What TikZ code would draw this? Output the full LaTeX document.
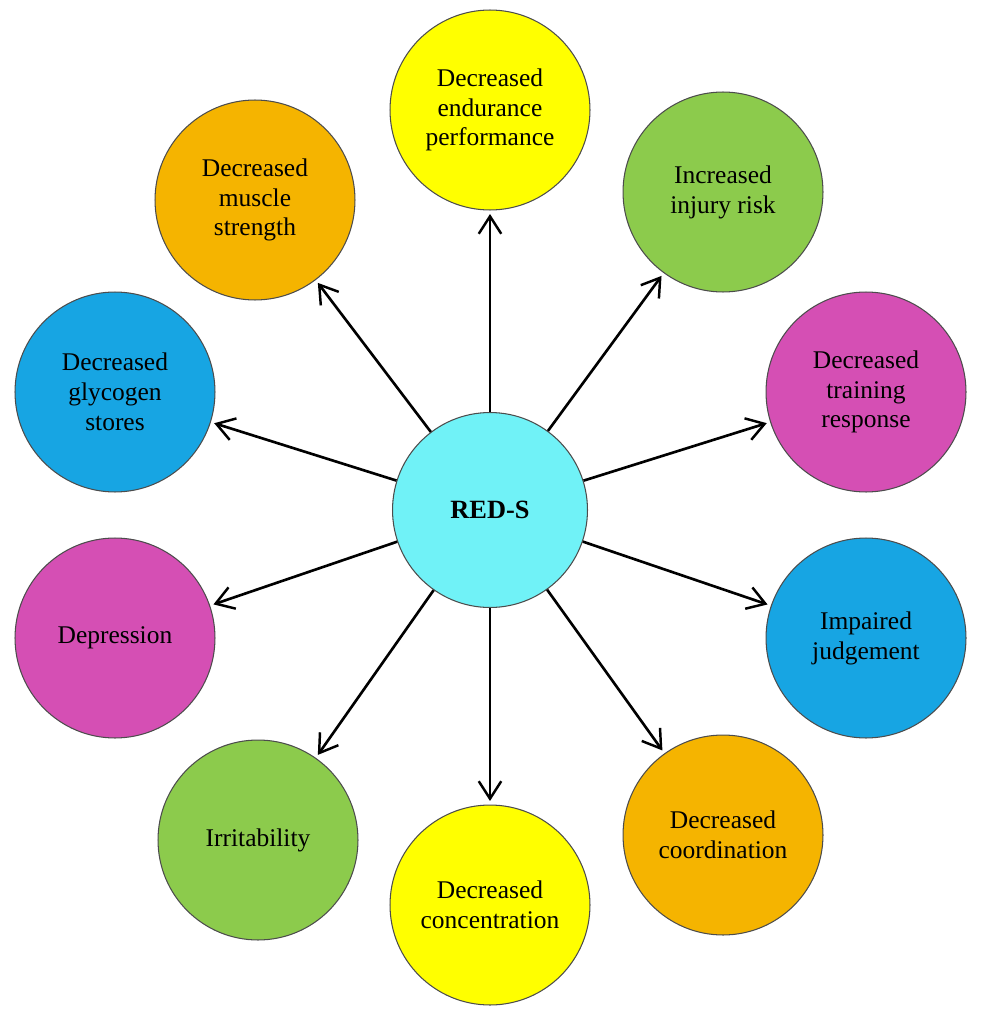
\documentclass[tikz,border=0pt]{standalone}
\usepackage{fontspec}
\setmainfont{Liberation Serif}
\usetikzlibrary{arrows.meta}
\begin{document}
\begin{tikzpicture}[x=0.02cm,y=-0.02cm,
  c/.style={circle,draw=black!70,line width=0.6pt,minimum size=4cm,inner sep=0pt,align=center,font=\fontsize{14.5}{17}\selectfont},
  arr/.style={-{Straight Barb[length=3.5mm,width=4.5mm,line width=1.4pt]},line width=1.5pt,shorten >=2pt}]
\definecolor{yel}{HTML}{FFFF00}
\definecolor{org}{HTML}{F5B400}
\definecolor{grn}{HTML}{8CCB4C}
\definecolor{mag}{HTML}{D54FB4}
\definecolor{blu}{HTML}{17A5E3}
\definecolor{cya}{HTML}{70F2F7}
\useasboundingbox (0,0) rectangle (985,1024);
\node[c,fill=cya,minimum size=3.9cm,font=\fontsize{15}{17}\selectfont\bfseries] (m) at (490,510) {RED-S};
\node[c,fill=yel] (a) at (490,110) {Decreased\\endurance\\performance};
\node[c,fill=org] (b) at (255,200) {Decreased\\muscle\\strength};
\node[c,fill=grn] (d) at (723,192) {Increased\\injury risk};
\node[c,fill=blu] (e) at (115,392) {Decreased\\glycogen\\stores};
\node[c,fill=mag] (f) at (866,392) {Decreased\\training\\response};
\node[c,fill=mag] (g) at (115,638) {Depression};
\node[c,fill=blu] (h) at (866,638) {Impaired\\judgement};
\node[c,fill=grn] (i) at (258,840) {Irritability};
\node[c,fill=org] (j) at (723,835) {Decreased\\coordination};
\node[c,fill=yel] (k) at (490,905) {Decreased\\concentration};
\foreach \t in {a,b,d,e,f,g,h,i,j,k} \draw[arr] (m) -- (\t);
\end{tikzpicture}
\end{document}
